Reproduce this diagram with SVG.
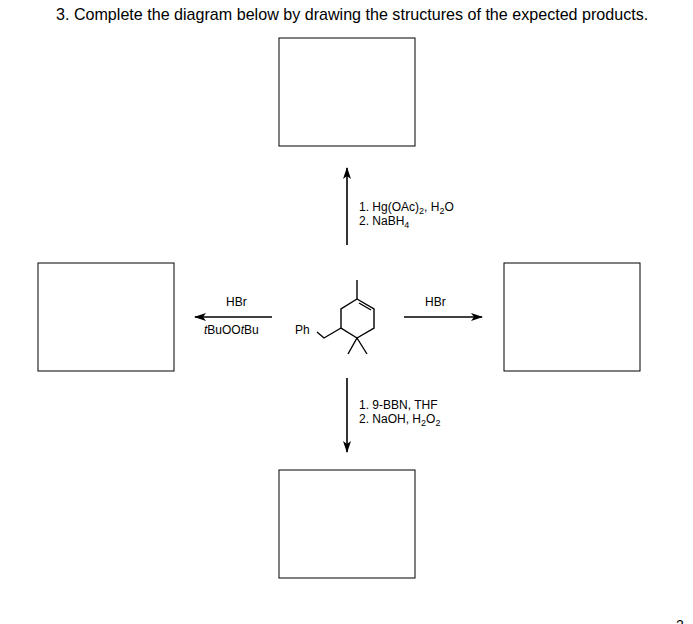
<svg xmlns="http://www.w3.org/2000/svg" width="693" height="624" viewBox="0 0 693 624">
<style>
text{font-family:"Liberation Sans",Arial,sans-serif;fill:#000}
.t{font-size:12px}
.box{fill:none;stroke:#000;stroke-width:1}
.ln{stroke:#000;stroke-width:1.4;fill:none}
.ar{stroke:#000;stroke-width:1.6;fill:none}
</style>
<defs><marker id="ah" markerWidth="12" markerHeight="8" refX="11" refY="4" orient="auto" markerUnits="userSpaceOnUse"><path d="M0,0 L12,4 L0,8 L3,4 Z" fill="#000"/></marker></defs>
<rect width="693" height="624" fill="#fff"/>
<text x="56" y="20" font-size="16.1">3.  Complete the diagram below by drawing the structures of the expected products.</text>
<g id="box-top"><rect class="box" x="279" y="38" width="136" height="108"/></g>
<g id="box-left"><rect class="box" x="38" y="263" width="136" height="108"/></g>
<g id="box-right"><rect class="box" x="504" y="263" width="136" height="108"/></g>
<g id="box-bottom"><rect class="box" x="279" y="470" width="136" height="108"/></g>
<g id="molecule">
<path class="ln" d="M357,299 L374,309 L374,328 L357,338 L341,328 L341,309 Z"/>
<path class="ln" d="M357,280 L357,299"/>
<path class="ln" d="M359,303 L371,310"/>
<path class="ln" d="M357,338 L348,354 M357,338 L367,354 M341,328 L324,338 L317,332"/>
<text class="t" x="295" y="334">Ph</text>
</g>
<g id="connectors">
<line class="ar" x1="347" y1="245" x2="347" y2="168" marker-end="url(#ah)"/>
<line class="ar" x1="272" y1="317" x2="195" y2="317" marker-end="url(#ah)"/>
<line class="ar" x1="404" y1="317" x2="482" y2="317" marker-end="url(#ah)"/>
<line class="ar" x1="347" y1="378" x2="347" y2="452" marker-end="url(#ah)"/>
</g>
<g id="labels">
<text class="t" x="359" y="211">1. Hg(OAc)<tspan font-size="9" dy="3">2</tspan><tspan dy="-3">, H</tspan><tspan font-size="9" dy="3">2</tspan><tspan dy="-3">O</tspan></text>
<text class="t" x="359" y="225">2. NaBH<tspan font-size="9" dy="3">4</tspan></text>
<text class="t" x="226" y="306">HBr</text>
<text class="t" x="204" y="334"><tspan font-style="italic">t</tspan>BuOO<tspan font-style="italic">t</tspan>Bu</text>
<text class="t" x="425" y="306">HBr</text>
<text class="t" x="359" y="409">1. 9-BBN, THF</text>
<text class="t" x="359" y="423">2. NaOH, H<tspan font-size="9" dy="3">2</tspan><tspan dy="-3">O</tspan><tspan font-size="9" dy="3">2</tspan></text>
<text x="676" y="630" font-size="14">2</text>
</g>
</svg>
